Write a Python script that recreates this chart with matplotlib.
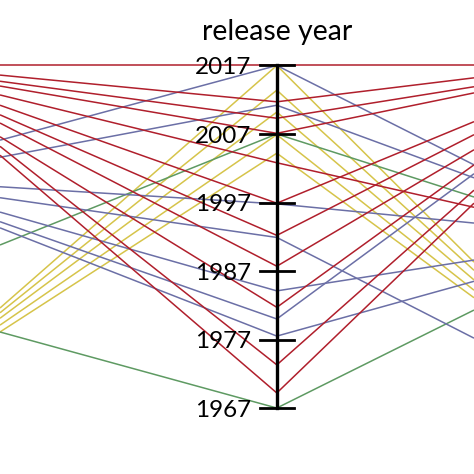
import matplotlib.pyplot as plt

# parallel coordinates: hidden left attribute | release year | hidden right attribute
# the outer axes are cropped away, values are given on the release-year scale at the figure edges
years = [1967, 1977, 1987, 1997, 2007, 2017]

red_left = [2017, 2015.6, 2014.7, 2014.0, 2012.7, 2011.2, 2009.8, 2008.6, 2006.6, 2005.2, 2003.9]
red_mid = [2017, 2011.7, 2009.3, 2007.1, 2002.8, 1996.9, 1992.2, 1987.7, 1981.7, 1973.3, 1969.2]
red_right = [2017, 2015.2, 2013.9, 2013.0, 1996.3, 2008.8, 2006.9, 2004.7, 2002.5, 1998.8, 1996.9]

blue_left = [2006.1, 2003.6, 1999.3, 1997.7, 1995.6, 1994.2, 1993.3]
blue_mid = [2017, 2011.2, 1996.8, 1991.9, 1984.1, 1980.0, 1977.5]
blue_right = [2002.5, 2000.6, 1994.0, 1977.2, 1988.6, 2001.2, 1985.5]

green_left = [1990.8, 1978.1]
green_mid = [2007, 1967]
green_right = [1997.8, 1981.3]

yellow_left = [1981.6, 1980.9, 1980.1, 1979.1, 1978.1]
yellow_mid = [2017, 2013.4, 2010.2, 2006.9, 2004.2]
yellow_right = [1988.3, 1987.1, 1985.7, 1984.2, 1983.1]

groups = [
    (yellow_left, yellow_mid, yellow_right, '#d6c44a'),
    (green_left, green_mid, green_right, '#5e9a62'),
    (blue_left, blue_mid, blue_right, '#6b6fa6'),
    (red_left, red_mid, red_right, '#b01f2c'),
]

xs = [0, 0.584, 1]  # left edge, release year axis, right edge

fig = plt.figure(figsize=(4.74, 4.74), dpi=100)
ax = fig.add_axes([0, 0, 1, 1])

for left, mid, right, col in groups:
    for a, b, c in zip(left, mid, right):
        ax.plot(xs, [a, b, c], color=col, lw=1.1, solid_capstyle='butt')

# the year axis
ax.plot([xs[1], xs[1]], [years[0], years[-1]], color='black', lw=2.4, zorder=5)
for yr in years:
    ax.plot([xs[1] - 0.036, xs[1] + 0.036], [yr, yr], color='black', lw=2.0, zorder=5)
    ax.text(xs[1] - 0.054, yr - 0.3, str(yr), ha='right', va='center',
            fontsize=17.5, family='Lato', zorder=6)

ax.text(xs[1], 0.932, 'release year', transform=ax.transAxes, ha='center',
        va='center', fontsize=20.5, family='Lato')

ax.set_xlim(0, 1)
ax.set_ylim(1957.37, 2026.56)
ax.axis('off')

fig.savefig('out.png', dpi=100)
